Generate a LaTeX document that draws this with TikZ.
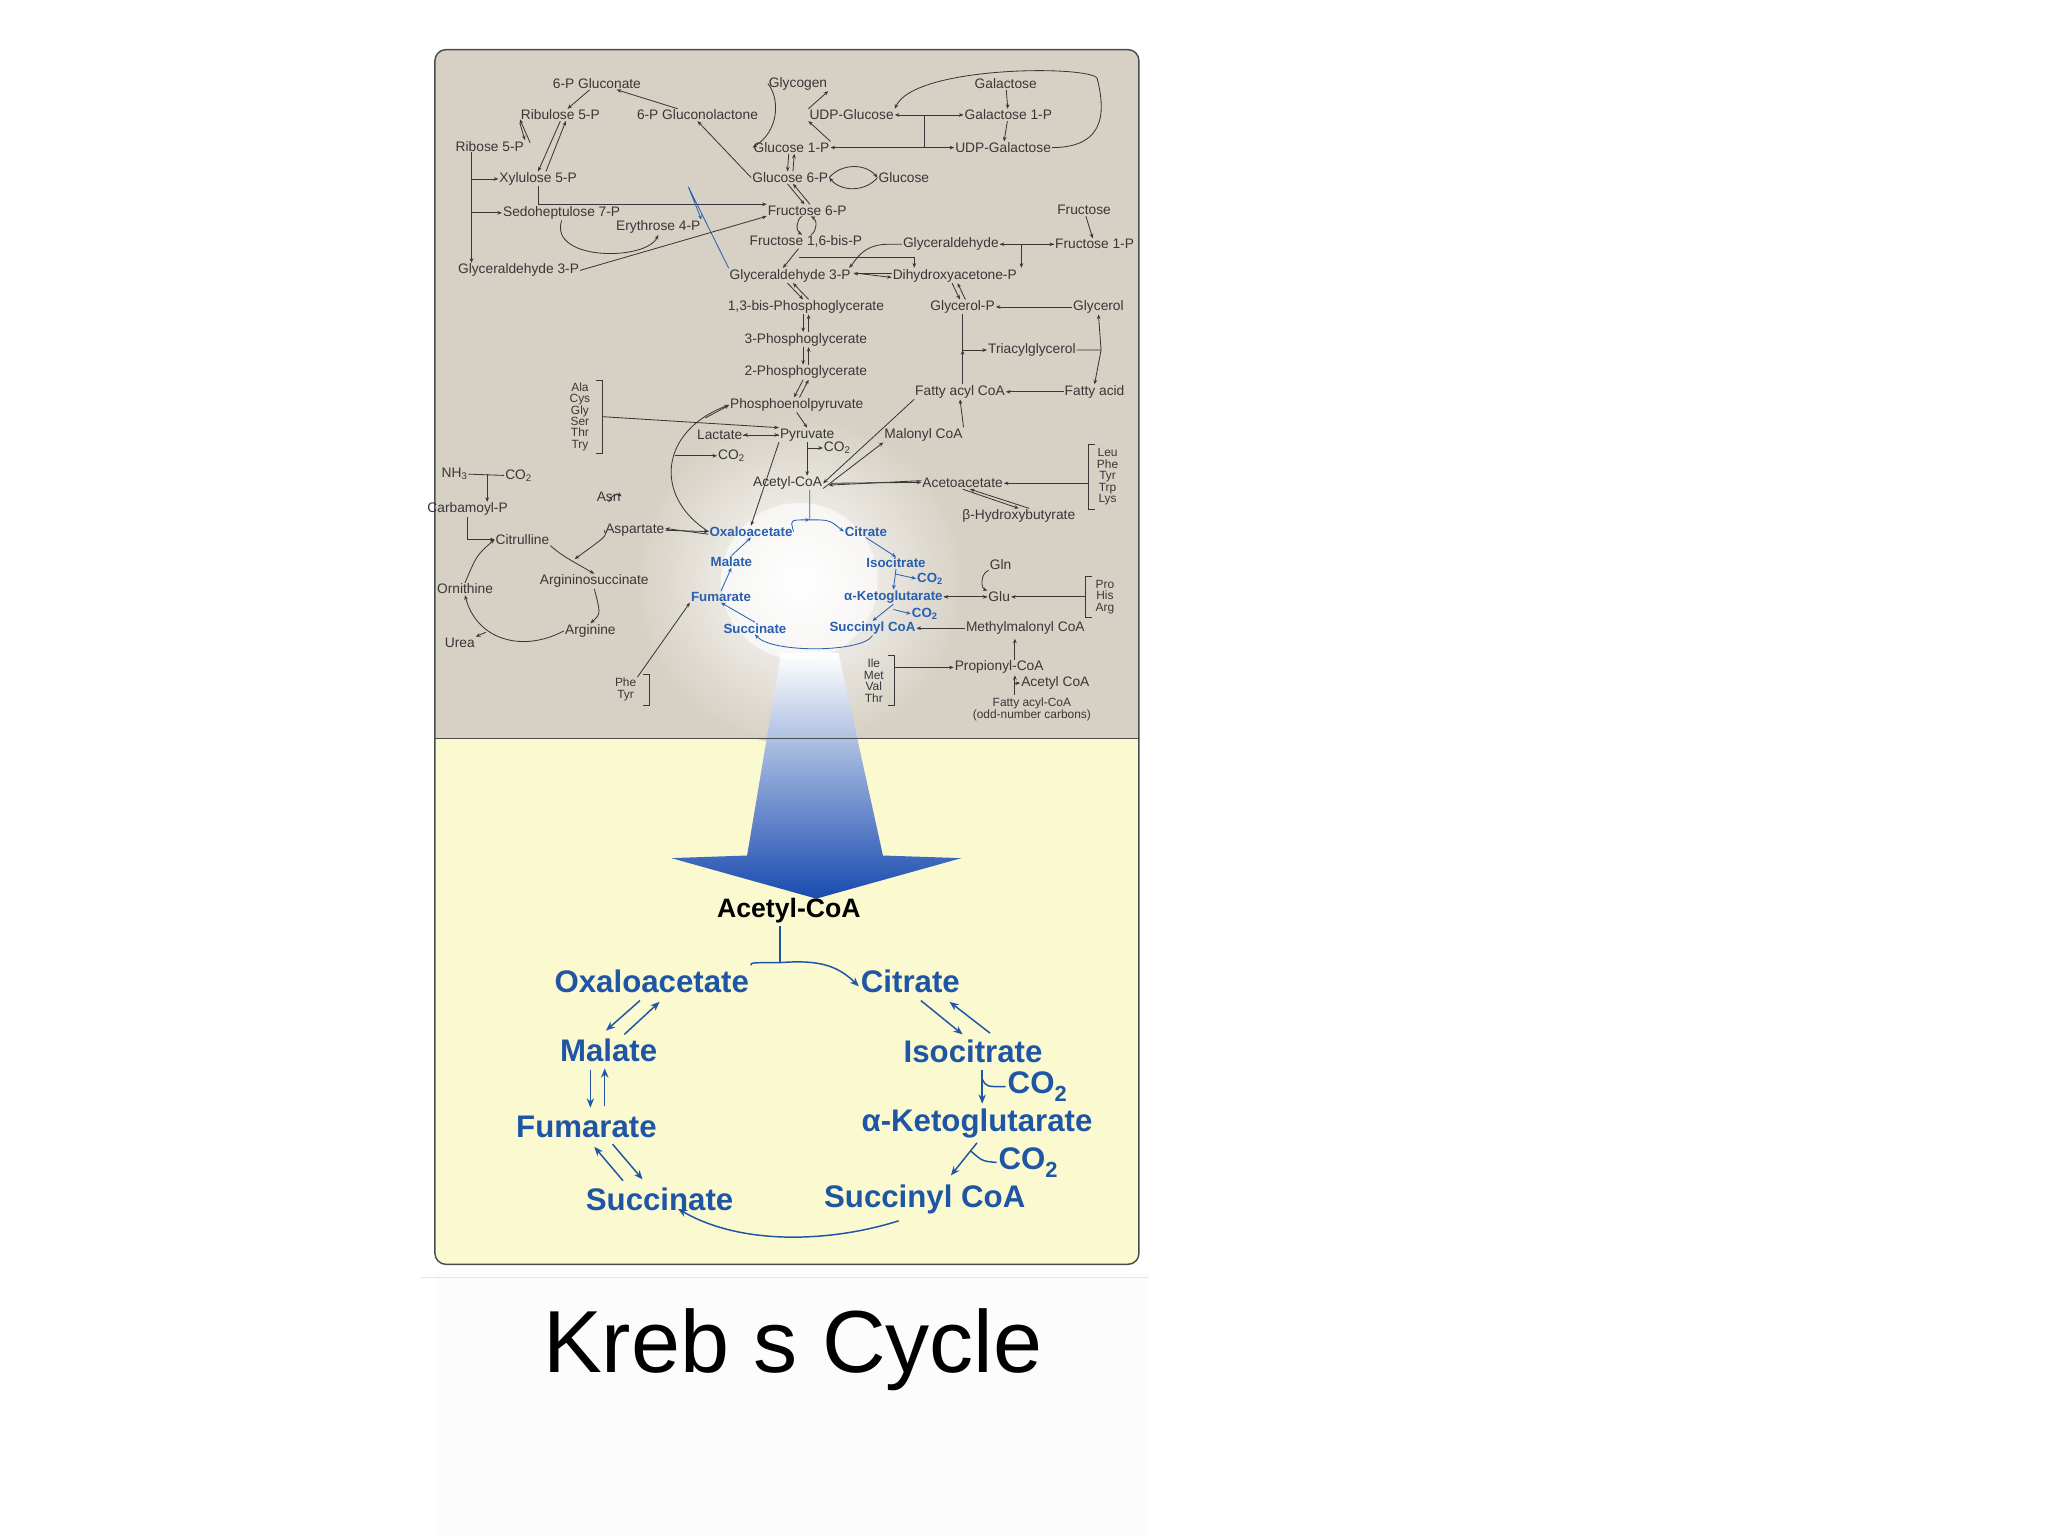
\documentclass[tikz,border=0pt]{standalone}
\usepackage{fontspec}
\setmainfont{Liberation Sans}
\usetikzlibrary{arrows.meta}
\definecolor{tan}{RGB}{215,209,197}
\definecolor{yel}{RGB}{250,249,208}
\definecolor{ink}{RGB}{55,55,55}
\definecolor{tb}{RGB}{40,95,175}
\definecolor{bb}{RGB}{30,85,165}
\definecolor{fb}{RGB}{25,75,175}
\tikzset{
 t/.style={font=\fontsize{15}{15}\selectfont, text=ink, inner sep=1pt},
 tl/.style={font=\fontsize{13}{12.5}\selectfont, text=ink, inner sep=1pt, align=center},
 tc/.style={font=\fontsize{14.5}{15}\selectfont\bfseries, text=tb, inner sep=1pt},
 k/.style={font=\fontsize{34}{34}\selectfont\bfseries, text=bb, inner sep=2pt},
 ar/.style={draw=ink, line width=0.9pt, -{Stealth[length=5pt,width=4pt]}},
 ln/.style={draw=ink, line width=0.9pt},
 ba/.style={draw=bb, line width=1.6pt, -{Stealth[length=10pt,width=8pt]}},
 bl/.style={draw=bb, line width=1.6pt},
 tba/.style={draw=tb, line width=0.9pt, -{Stealth[length=5pt,width=4pt]}},
}
\begin{document}
\begin{tikzpicture}[x=0.05cm,y=-0.05cm]
\useasboundingbox (0,0) rectangle (1568,1176);
\fill[white] (0,0) rectangle (1568,1176);
\fill[gray!2] (333,975) rectangle (880,1176);
\draw[gray!20, line width=1pt] (322,978) -- (880,978);
% panel
\begin{scope}
\clip[rounded corners=12] (333,38) rectangle (872,968);
\fill[tan] (333,38) rectangle (872,565);
\fill[yel] (333,565) rectangle (872,968);
\shade[inner color=white, outer color=tan] (612,445) circle (125);
\shade[top color=white, bottom color=fb] (598,500) -- (642,500) -- (676,655) -- (736,657) -- (625,688) -- (514,657) -- (572,655) -- cycle;
\fill[white, opacity=0.6] (612,445) circle (60);
\end{scope}
\draw[gray!60!black, line width=1.6pt, rounded corners=12] (333,38) rectangle (872,968);
\draw[gray!60!black, line width=0.8pt] (333,565) -- (872,565);
% ---------- top map nodes
\node[t] (gl6) at (457,64) {6-P Gluconate};
\node[t] (ru5) at (429,88) {Ribulose 5-P};
\node[t] (glac) at (534,88) {6-P Gluconolactone};
\node[t] (ri5) at (375,112) {Ribose 5-P};
\node[t] (xy5) at (412,137) {Xylulose 5-P};
\node[t] (se7) at (430,163) {Sedoheptulose 7-P};
\node[t] (er4) at (504,174) {Erythrose 4-P};
\node[t] (gapl) at (397,207) {Glyceraldehyde 3-P};
\node[t] (gly) at (611,64) {Glycogen};
\node[t] (udpg) at (652,88) {UDP-Glucose};
\node[t] (gal) at (770,64) {Galactose};
\node[t] (gal1) at (772,88) {Galactose 1-P};
\node[t] (g1p) at (606,113) {Glucose 1-P};
\node[t] (udpgal) at (768,113) {UDP-Galactose};
\node[t] (g6p) at (605,136) {Glucose 6-P};
\node[t] (glc) at (692,136) {Glucose};
\node[t] (f6p) at (618,161) {Fructose 6-P};
\node[t] (fru) at (830,161) {Fructose};
\node[t] (f16) at (617,185) {Fructose 1,6-bis-P};
\node[t] (gald) at (728,187) {Glyceraldehyde};
\node[t] (f1p) at (838,187) {Fructose 1-P};
\node[t] (gap) at (605,211) {Glyceraldehyde 3-P};
\node[t] (dhap) at (731,211) {Dihydroxyacetone-P};
\node[t] (bpg) at (617,235) {1,3-bis-Phosphoglycerate};
\node[t] (glp) at (737,235) {Glycerol-P};
\node[t] (glyc) at (841,235) {Glycerol};
\node[t] (pg3) at (617,260) {3-Phosphoglycerate};
\node[t] (tag) at (790,268) {Triacylglycerol};
\node[t] (pg2) at (617,285) {2-Phosphoglycerate};
\node[t] (fac) at (735,300) {Fatty acyl CoA};
\node[t] (fa) at (838,300) {Fatty acid};
\node[t] (pep) at (610,310) {Phosphoenolpyruvate};
\node[tl] (aa1) at (444,319) {Ala\\Cys\\Gly\\Ser\\Thr\\Try};
\node[t] (lac) at (551,333) {Lactate};
\node[t] (pyr) at (618,333) {Pyruvate};
\node[t] (mal) at (707,333) {Malonyl CoA};
\node[t] (co2a) at (641,343) {CO\textsubscript{2}};
\node[t] (co2b) at (560,349) {CO\textsubscript{2}};
\node[t] (acoa) at (603,370) {Acetyl-CoA};
\node[t] (aac) at (737,370) {Acetoacetate};
\node[t] (bhb) at (780,395) {β-Hydroxybutyrate};
\node[tl] (aa2) at (848,365) {Leu\\Phe\\Tyr\\Trp\\Lys};
\node[t] (nh3) at (348,363) {NH\textsubscript{3}};
\node[t] (co2c) at (397,364) {CO\textsubscript{2}};
\node[t] (carb) at (358,390) {Carbamoyl-P};
\node[t] (asn) at (466,380) {Asn};
\node[t] (asp) at (486,406) {Aspartate};
\node[t] (citr) at (400,413) {Citrulline};
\node[t] (orn) at (356,451) {Ornithine};
\node[t] (args) at (455,445) {Argininosuccinate};
\node[t] (arg) at (452,483) {Arginine};
\node[t] (urea) at (352,492) {Urea};
\node[tl] (aa5) at (479,528) {Phe\\Tyr};
\node[tc] (oaa2) at (575,407) {Oxaloacetate};
\node[tc] (cit2) at (663,407) {Citrate};
\node[tc] (mlt2) at (560,430) {Malate};
\node[tc] (iso2) at (686,431) {Isocitrate};
\node[tc] (co2d) at (712,443) {CO\textsubscript{2}};
\node[tc] (fum2) at (552,457) {Fumarate};
\node[tc] (akg2) at (684,457) {α-Ketoglutarate};
\node[tc] (co2e) at (708,470) {CO\textsubscript{2}};
\node[tc] (suc2) at (578,481) {Succinate};
\node[tc] (scoa2) at (668,481) {Succinyl CoA};
\node[t] (gln) at (766,432) {Gln};
\node[t] (glu) at (765,457) {Glu};
\node[tl] (aa3) at (846,457) {Pro\\His\\Arg};
\node[t] (mmc) at (785,481) {Methylmalonyl CoA};
\node[tl] (aa4) at (669,521) {Ile\\Met\\Val\\Thr};
\node[t] (prop) at (765,511) {Propionyl-CoA};
\node[t] (acoa3) at (808,523) {Acetyl CoA};
\node[tl] (facod) at (790,543) {Fatty acyl-CoA\\(odd-number carbons)};
% brackets
\draw[ln] (456,291) -- (461,291) -- (461,347) -- (456,347);
\draw[ln] (838,340) -- (833,340) -- (833,390) -- (838,390);
\draw[ln] (836,441) -- (831,441) -- (831,473) -- (836,473);
\draw[ln] (492,516) -- (497,516) -- (497,540) -- (492,540);
\draw[ln] (680,502) -- (685,502) -- (685,540) -- (680,540);
% ---------- top arrows
\draw[ar] (gl6) -- (ru5);
\draw[ar] (glac) -- (gl6);
\draw[ar] (g6p.west) -- (glac.south);
\draw[ar] ([yshift=-2]ru5.south west) -- (ri5.north east);
\draw[ar] (ri5.north east) ++(4,2) -- ([yshift=2]ru5.south west);
\draw[ar] (ru5.south) -- (xy5.north);
\draw[ar] (xy5.north) ++(6,0) -- ([xshift=6]ru5.south);
\draw[ar] (ri5.south) ++(-14,0) -- (gapl.north -| 361,0);
\draw[ar] (361,137) -- (xy5.west);
\draw[ar] (361,163) -- (se7.west);
\draw[ar] (xy5.south) -- (xy5.south |- f6p.north) -- (f6p.north west);
\draw[ar] (gapl.east) -- (f6p.south west);
\draw[ar] (se7.south) .. controls (420,200) and (495,200) .. (er4.south);
\draw[tba] (gap.north west) -- (527,143) -- (er4.north east);
\draw[ar] (gly.west) .. controls (597,75) and (597,100) .. (g1p.west);
\draw[ar] (g1p.north east) -- (udpg.south west);
\draw[ar] (udpg.north west) -- (gly.south east);
\draw[ar] (gal) -- (gal1);
\draw[ar] (gal1) -- (udpgal);
\draw[ar] (708,88) -- (udpg.east);
\draw[ar] (708,88) -- (gal1.west);
\draw[ln] (708,88) -- (708,113);
\draw[ar] (708,113) -- (g1p.east);
\draw[ar] (708,113) -- (udpgal.west);
\draw[ar] (udpgal.east) .. controls (850,113) and (845,80) .. (840,60) .. controls (835,50) and (700,50) .. (udpg.north east);
\draw[ar] ([xshift=-3]g1p.south) -- ([xshift=-3]g6p.north);
\draw[ar] ([xshift=3]g6p.north) -- ([xshift=3]g1p.south);
\draw[ar] (g6p.east) to[bend left=50] (glc.west);
\draw[ar] (glc.west) to[bend left=50] (g6p.east);
\draw[ar] ([xshift=-3]g6p.south) -- ([xshift=-3]f6p.north);
\draw[ar] ([xshift=3]f6p.north) -- ([xshift=3]g6p.south);
\draw[ar] (f6p.south) ++(-4,0) to[bend right=60] ([xshift=-4]f16.north);
\draw[ar] (f16.north) ++(4,0) to[bend right=60] ([xshift=4]f6p.south);
\draw[ar] (fru) -- (f1p);
\draw[ar] (gald.east) -- (f1p.west);
\draw[ar] (f1p.west) -- (gald.east);
\draw[ar] (782,187) -- (782,205);
\draw[ar] (gald.west) -- (680,187) .. controls (660,187) and (655,200) .. (650,205);
\draw[ar] ([xshift=-8]f16.south) -- ([xshift=-8]gap.north);
\draw[ln] (612,197) -- (700,197);
\draw[ar] (700,197) -- (700,205);
\draw[ar] (gap.east) ++(2,-2) -- ([yshift=-2]dhap.west);
\draw[ar] ([yshift=2]dhap.west) -- ([xshift=2,yshift=2]gap.east);
\foreach \a/\b in {gap/bpg,bpg/pg3,pg3/pg2,pg2/pep}{
 \draw[ar] ([xshift=-3]\a.south) -- ([xshift=-3]\b.north);
 \draw[ar] ([xshift=3]\b.north) -- ([xshift=3]\a.south);}
\draw[ar] ([xshift=-3]dhap.south) -- ([xshift=-3]glp.north);
\draw[ar] ([xshift=3]glp.north) -- ([xshift=3]dhap.south);
\draw[ar] (glyc) -- (glp);
\draw[ar] (fa) -- (fac);
\draw[ar] (glp.south) -- (glp.south |- tag.west) -- (tag.west);
\draw[ar] (fac.north -| glp.south) -- (glp.south |- tag.west);
\draw[ar] (tag.east) -- (843,268) -- (glyc.south);
\draw[ar] (843,268) -- (fa.north);
\draw[ar] (461,319) -- (pyr.north west);
\draw[ar] (540,320) .. controls (555,312) .. (pep.west);
\draw[ar] (pep.south) -- (pyr.north);
\draw[ar] (lac.east) -- (pyr.west);
\draw[ar] (pyr.west) -- (lac.east);
\draw[ar] (pyr.south) -- (acoa.north -| pyr.south);
\draw[ar] (618,343) -- (co2a.west);
\draw[ar] (pyr.south west) -- (oaa2.north);
\draw[ar] (oaa2.west) .. controls (500,380) and (505,330) .. (pep.west);
\draw[ar] (517,349) -- (co2b.west);
\draw[ar] (asn.south) to[bend left=60] (asn.east);
\draw[ar] (fac.south west) -- (acoa.east);
\draw[ar] (acoa.east) ++(0,4) -- (mal.south west);
\draw[ar] (mal.north east) -- (fac.south);
\draw[ar] (acoa.east) ++(6,0) -- ([yshift=1]aac.west);
\draw[ar] (aac.west) ++(0,-2) -- ([xshift=6,yshift=-2]acoa.east);
\draw[ar] (aac.south) -- (bhb.north);
\draw[ar] (bhb.north) ++(8,0) -- ([xshift=8]aac.south);
\draw[ar] (833,370) -- (aac.east);
\draw[ln] (nh3.east) -- (co2c.west);
\draw[ar] (373,363) -- (carb.north -| 373,0);
\draw[ar] (carb.south) -- (carb.south |- citr.west) -- (citr.west);
\draw[ar] (citr.south east) .. controls (430,425) .. (args.north);
\draw[ar] (asp.west) .. controls (465,410) .. (440,428);
\draw[ar] (args.south) .. controls (460,470) .. (arg.north);
\draw[ar] (arg.west) .. controls (400,500) and (365,490) .. (orn.south);
\draw[ar] (372,484) -- (urea.north east);
\draw[ar] (orn.north) .. controls (365,425) .. (citr.west);
\draw[ar] (asp.east) -- (oaa2.west);
\draw[ar] (oaa2.west) ++(0,2) -- ([yshift=2]asp.east);
\draw[ar] (aa5.north east) -- (fum2.south west);
\draw[ar] (glu.west) -- (akg2.east);
\draw[ar] (akg2.east) -- (glu.west);
\draw[ar] (gln.south west) to[bend right=70] (glu.north west);
\draw[ar] (831,457) -- (glu.east);
\draw[ar] (mmc.west) -- (scoa2.east);
\draw[ar] (prop.north -| 777,0) -- (777,489);
\draw[ar] (685,511) -- (prop.west);
\draw[ar] (777,532) -- (777,517);
\draw[ar] (777,523) -- (acoa3.west);
% blue mini cycle
\draw[tba] (620,375) -- (620,398) .. controls (635,398) .. (cit2.west);
\draw[tba] (oaa2.east) .. controls (605,398) .. (620,398);
\draw[tba] (cit2.south) -- (iso2.north);
\draw[tba] (iso2.south) -- (akg2.north);
\draw[tba] (iso2.south) ++(0,4) -- (co2d.west);
\draw[tba] (akg2.south) -- (scoa2.north);
\draw[tba] (akg2.south) ++(0,4) -- (co2e.west);
\draw[tba] (scoa2.south) .. controls (660,500) and (590,500) .. (suc2.south);
\draw[tba] (suc2.north) -- (fum2.south);
\draw[tba] (fum2.north) -- (mlt2.south);
\draw[tba] (mlt2.north) -- (oaa2.south);
% ---------- bottom cycle
\node[font=\fontsize{29}{30}\selectfont\bfseries, text=black] (acb) at (604,697) {Acetyl-CoA};
\node[k] (oaa) at (499,751) {Oxaloacetate};
\node[k] (cit) at (697,751) {Citrate};
\node[k] (mlt) at (466,804) {Malate};
\node[k] (iso) at (745,805) {Isocitrate};
\node[k] (fum) at (449,863) {Fumarate};
\node[k] (akg) at (748,860) {α-Ketoglutarate};
\node[k] (suc) at (505,918) {Succinate};
\node[k] (scoa) at (708,918) {Succinyl CoA};
\node[k, anchor=west] (co2f) at (770,832) {CO\textsubscript{2}};
\node[k, anchor=west] (co2g) at (763,890) {CO\textsubscript{2}};
\coordinate (j) at (597,737);
\draw[bl] (acb.south -| j) -- (j);
\draw[bl] (oaa.east) ++(0,-12) .. controls (575,737) .. (j);
\draw[ba] (j) .. controls (625,735) and (640,738) .. ([yshift=-6]cit.west);
\draw[ba] (705,766) -- (737,792);
\draw[ba] (758,791) -- (727,767);
\draw[ba] (752,819) -- (752,845);
\draw[bl] (752,826) .. controls (755,832) .. (co2f.west);
\draw[ba] (748,875) -- (728,900);
\draw[bl] (743,881) .. controls (752,889) .. (co2g.west);
\draw[ba] (scoa.south) ++(-20,4) .. controls (640,950) and (570,955) .. ([xshift=20,yshift=4]suc.south);
\draw[ba] (477,904) -- (455,878);
\draw[ba] (469,876) -- (492,903);
\draw[ba] (452,819) -- (452,848);
\draw[ba] (463,847) -- (463,818);
\draw[ba] (478,792) -- (505,767);
\draw[ba] (490,766) -- (464,789);
% title
\node[font=\fontsize{96}{98}\selectfont, text=black] (title) at (607,1033) {Kreb s Cycle};
\end{tikzpicture}
\end{document}
